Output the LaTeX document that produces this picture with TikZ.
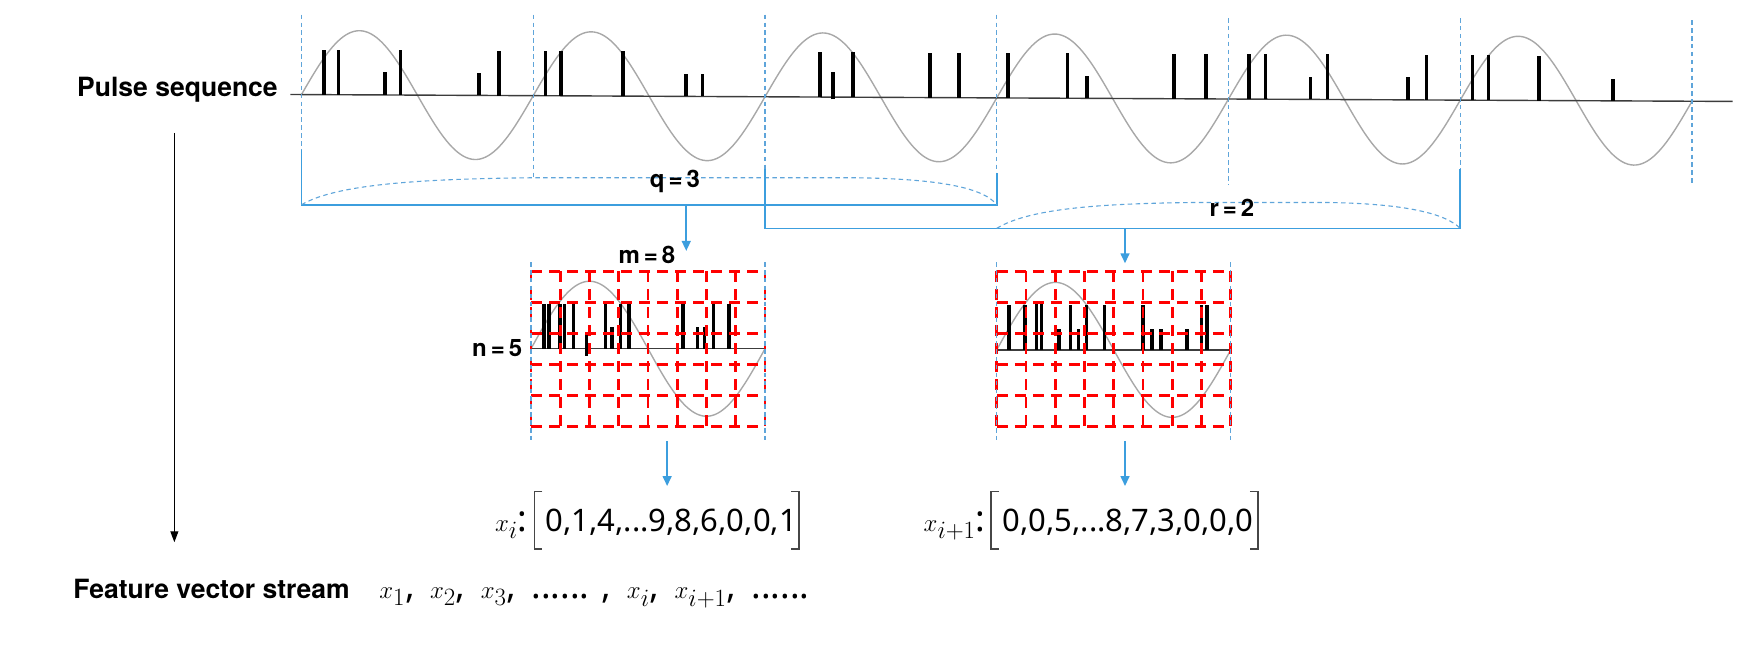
\documentclass[tikz,border=0pt]{standalone}
\usepackage{fontspec}
\setmainfont{Noto Sans}
\newfontfamily\hbold{TeX Gyre Heros}
\usetikzlibrary{arrows.meta}
\definecolor{bl}{RGB}{60,158,222}
\definecolor{bld}{RGB}{95,165,218}
\definecolor{sinec}{RGB}{168,168,168}
\definecolor{basec}{RGB}{60,60,60}
\definecolor{brkc}{RGB}{70,70,70}
\begin{document}
\begin{tikzpicture}[x=1.125pt,y=-1.125pt,
  pulse/.style={line width=3.6pt,black},
  mpulse/.style={line width=3.4pt,black},
  sinew/.style={sinec,line width=1.4pt},
  basew/.style={basec,line width=1.4pt},
  bdash/.style={bld,line width=1.1pt,dash pattern=on 4.5pt off 3.4pt},
  bsolid/.style={bl,line width=1.6pt},
  barr/.style={bl,line width=1.6pt,-{Triangle[length=10pt,width=9pt]}},
  rgrid/.style={red,line width=2.8pt,dash pattern=on 11pt off 7pt},
  lbl/.style={font=\hbold\bfseries\fontsize{24}{28}\selectfont,inner sep=0pt},
  ttl/.style={font=\hbold\bfseries\fontsize{26.5}{31}\selectfont,inner sep=0pt},
  vec/.style={font=\fontsize{31}{36}\selectfont,inner sep=0pt},
  mth/.style={font=\fontsize{36}{42}\selectfont,inner sep=0pt},
  brk/.style={brkc,line width=1.7pt},
  gridbox/.style={minimum width=234pt,minimum height=155pt,inner sep=0pt}
]
\useasboundingbox (0,0) rectangle (1568,585.78);

% ---------- pulse sequence ----------
\node[ttl,anchor=base east] (ps) at (247,86) {Pulse sequence};
\draw[sinew] plot[domain=268:1504,samples=500,smooth] (\x,{84+0.0048*(\x-258)-57*sin(1.747573*(\x-268))});
\draw[basew] (258,84) -- (1540,{84+0.0048*(1540-258)});
\foreach \p/\h in {288/40,301/40,342/20,356/40,426/20,443.5/40,
                   485/40,498.7/40,553.8/40,610/20,624.6/20,
                   729/40,758/40,826.7/40,852.4/40,
                   896/40,949/40,966/20,1043.6/40,1072/40,
                   1110/40,1125/40,1165/20,1180/40,1251.6/20,1268/40,
                   1309/40,1323/40,1368/40,1433.5/19}
  \draw[pulse] (\p,{84+0.0048*(\p-258)}) -- ++(0,-\h);
\draw[pulse] (740.4,{86+0.0048*(740.4-258)}) -- ++(0,-24);

% period boundaries
\draw[bdash] (268,13) -- (268,133);
\draw[bdash] (474,13) -- (474,158);
\draw[bdash] (680,13) -- (680,150);
\draw[bdash] (886,13) -- (886,154);
\draw[bdash] (1092,16) -- (1092,164);
\draw[bdash] (1298,16) -- (1298,150);
\draw[bdash] (1504,18) -- (1504,164);

% q bracket
\coordinate (q0) at (268,182);
\coordinate (q1) at (886,182);
\draw[bsolid] (268,133) -- (q0) -- (q1) -- (886,154);
\draw[bdash] (q0) .. controls (300,163) and (380,159) .. (474,158) -- (760,158) .. controls (840,159) and (875,168) .. (q1);
\node[lbl] (qlab) at (600,161) {q\thinspace=\thinspace3};

% r bracket
\coordinate (r0) at (680,203);
\coordinate (r1) at (1298,203);
\draw[bsolid] (680,150) -- (r0) -- (r1) -- (1298,150);
\draw[bdash] (886,203) .. controls (915,185) and (980,181) .. (1060,180) -- (1180,180) .. controls (1250,181) and (1285,190) .. (r1);
\node[lbl] (rlab) at (1095,185) {r\thinspace=\thinspace2};

% ---------- grids ----------
\node[gridbox] (g1) at (576,310) {};
\node[gridbox] (g2) at (990,310) {};

\coordinate (qm) at (610,182);
\coordinate (qt) at (610,223);
\draw[barr] (qm) -- (qt);
\coordinate (rm) at (1000,203);
\coordinate (rt) at (1000,234);
\draw[barr] (rm) -- (rt);

\node[lbl] (mlab) at (575,227) {m\thinspace=\thinspace8};
\node[lbl] (nlab) at (442,309) {n\thinspace=\thinspace5};

% mini content grid 1
\draw[sinew] plot[domain=472:680,samples=150,smooth] (\x,{310-60*sin(1.730769*(\x-472))});
\draw[basew] (472,310) -- (680,310);
\foreach \p/\h in {483.6/40,488/40,497.6/40,502/40,509.6/40,538/40,544/19,551.6/40,559/40,607/40,620/19,626/19,634/40,648/40}
  \draw[mpulse] (\p,310) -- ++(0,-\h);
\draw[mpulse] (521.5,316) -- (521.5,296);

% mini content grid 2
\draw[sinew] plot[domain=886:1094,samples=150,smooth] (\x,{311-60*sin(1.730769*(\x-886))});
\draw[basew] (886,311) -- (1094,311);
\foreach \p/\h in {897/40,911/40,921.5/42,926/42,941.3/19,951.7/40,958.5/19,966/40,982/40,1016/40,1024/19,1032/19,1055/19,1068/40,1073/40}
  \draw[mpulse] (\p,311) -- ++(0,-\h);

% grids
\foreach \gx in {472,886} {
  \foreach \i in {0,...,8} \draw[rgrid] ({\gx+26*\i},241) -- ({\gx+26*\i},379);
  \foreach \j in {0,...,5} \draw[rgrid] (\gx,{241+27.6*\j}) -- ({\gx+208},{241+27.6*\j});
  \draw[bdash] (\gx,233) -- (\gx,392);
  \draw[bdash] ({\gx+208},233) -- ({\gx+208},392);
}

% ---------- feature vectors ----------
\coordinate (a1s) at (593,392);
\coordinate (a1e) at (593,432);
\draw[barr] (a1s) -- (a1e);
\coordinate (a2s) at (1000,392);
\coordinate (a2e) at (1000,432);
\draw[barr] (a2s) -- (a2e);

\node[mth,anchor=base east] (xi) at (469,472) {$x_i$:};
\node[vec,anchor=base west] (v1) at (485,472) {0,1,4,...9,8,6,0,0,1};
\draw[brk] (482,437) -- (475,437) -- (475,488) -- (482,488);
\draw[brk] (703,437) -- (710,437) -- (710,488) -- (703,488);

\node[mth,anchor=base east] (xi1) at (876,472) {$x_{i+1}$:};
\node[vec,anchor=base west] (v2) at (891,472) {0,0,5,...8,7,3,0,0,0};
\draw[brk] (888,437) -- (881,437) -- (881,488) -- (888,488);
\draw[brk] (1111,437) -- (1118,437) -- (1118,488) -- (1111,488);

% ---------- stream ----------
\coordinate (ds) at (155,118);
\coordinate (de) at (155,482);
\draw[black,line width=1.1pt,-{Triangle[length=11pt,width=8pt]}] (ds) -- (de);
\node[ttl,anchor=base west] (fvs) at (65,532) {Feature vector stream};
\node[mth,anchor=base west] (xs) at (337,532) {$x_1$,\, $x_2$,\, $x_3$,\, ...... ,\, $x_i$,\, $x_{i+1}$,\, ......};
\end{tikzpicture}
\end{document}
